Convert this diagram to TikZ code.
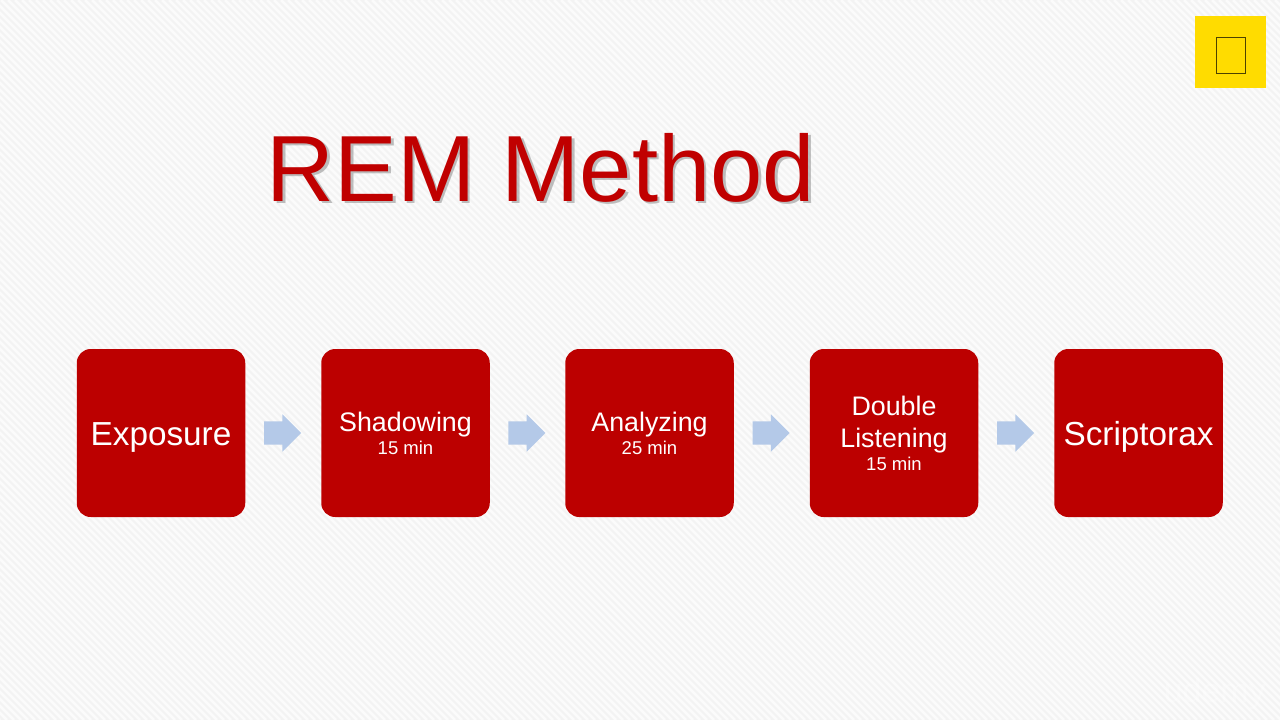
\documentclass[tikz,border=0pt]{standalone}
\usepackage{fontspec}
\setmainfont{Liberation Sans}
\usetikzlibrary{shapes.arrows,calc}
\definecolor{boxred}{HTML}{BC0000}
\definecolor{titlered}{HTML}{C00000}
\definecolor{arrowblue}{HTML}{B4C9E8}
\definecolor{signyellow}{HTML}{FFDC00}
\definecolor{pagegray}{HTML}{F3F3F3}
\definecolor{stripegray}{HTML}{FBFBFB}
\tikzset{
  stepbox/.style={draw=none,fill=boxred,rounded corners=14pt,minimum width=168.5pt,minimum height=168pt,
    inner sep=0pt,text=white,align=center,font=\fontsize{26.8}{32}\selectfont},
  bigstep/.style={stepbox,font=\fontsize{33.3}{40}\selectfont},
  flowarrow/.style={shape=single arrow,fill=arrowblue,draw=none,minimum height=37pt,minimum width=37pt,
    single arrow head extend=7pt,single arrow tip angle=90,inner xsep=0pt,inner ysep=11.5pt,outer sep=0pt,xshift=-6.5pt},
  titletext/.style={anchor=base,inner sep=0pt,font=\fontsize{94}{100}\selectfont},
  stripe/.style={stripegray,line width=2.5pt}
}
\newcommand{\smalltime}[1]{\\[-9pt]{\fontsize{18.5}{20}\selectfont #1}}
\newcommand{\lowered}[1]{\raisebox{0pt}[32pt][8pt]{#1}}
\begin{document}
\begin{tikzpicture}[x=1pt,y=-1pt]
\useasboundingbox (0,0) rectangle (1280,720);
\fill[pagegray] (0,0) rectangle (1280,720);
\begin{scope}
\clip (0,0) rectangle (1280,720);
\foreach \i in {-720,-713,...,1280} {\draw[stripe] (\i,0) -- ++(720,720);}
\end{scope}
% title
\node[titletext,text=black!45,opacity=.55] (titleshadow) at (543.5,203.5) {REM Method};
\node[titletext,text=titlered] (title) at (541,201) {REM Method};
% corner sign
\node[fill=signyellow,minimum width=71pt,minimum height=72pt,inner sep=0pt] (sign) at (1230.5,52) {};
\node[draw=black!70!signyellow,line width=1pt,minimum width=29pt,minimum height=36pt,inner sep=0pt] (signbox) at (1231,55.5) {};
% steps
\node[bigstep] (s1) at (161,433) {\lowered{Exposure}};
\node[stepbox] (s2) at (405.5,433) {Shadowing\smalltime{15 min}};
\node[stepbox] (s3) at (649.5,433) {Analyzing\smalltime{25 min}};
\node[stepbox] (s4) at (894,433) {Double\\Listening\smalltime{15 min}};
\node[bigstep] (s5) at (1138.5,433) {\lowered{Scriptorax}};
% arrows
\node[flowarrow] (a1) at ($(s1)!.5!(s2)$) {};
\node[flowarrow] (a2) at ($(s2)!.5!(s3)$) {};
\node[flowarrow] (a3) at ($(s3)!.5!(s4)$) {};
\node[flowarrow] (a4) at ($(s4)!.5!(s5)$) {};
\node[anchor=base east,inner sep=0pt,text=white,opacity=.3,font=\fontsize{34}{36}\selectfont] (wm) at (1266,702) {udemy};
\end{tikzpicture}
\end{document}
